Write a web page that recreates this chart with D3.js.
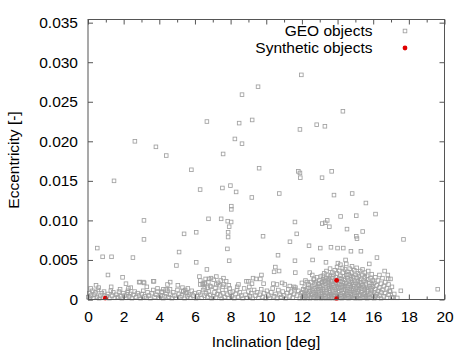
<!DOCTYPE html>
<html><head><meta charset="utf-8">
<script src="https://cdn.jsdelivr.net/npm/d3@7"></script>
<style>body{margin:0;background:#fff}svg{display:block}text{font-family:"Liberation Sans",Arial,Helvetica,sans-serif}</style>
</head><body><svg id="c" width="474" height="355"></svg>
<script>
// ---- data ----
const xTicks = [0,2,4,6,8,10,12,14,16,18,20];
const xMinorTicks = [1,3,5,7,9,11,13,15,17,19];
const yTicks = [0,0.005,0.010,0.015,0.020,0.025,0.030,0.035];
const yTickLabels = ["0","0.005","0.010","0.015","0.020","0.025","0.030","0.035"];
const legendLabels = ["GEO objects","Synthetic objects"];

// scattered GEO objects [inclination deg, eccentricity]
const geoSparse = [
[2.63,0.0200],[3.81,0.0193],[4.39,0.0182],[6.67,0.0225],[8.64,0.0259],[9.54,0.0269],[8.48,0.0223],[9.21,0.0227],
[8.24,0.0203],[8.64,0.0197],[7.58,0.0184],[11.97,0.0284],[14.30,0.0238],[12.83,0.0221],[13.29,0.0219],[11.89,0.0215],
[9.60,0.0166],[11.80,0.0162],[11.89,0.0160],[11.91,0.0154],[13.13,0.0154],[13.67,0.0162],[5.80,0.0164],[1.46,0.0150],
[6.29,0.0139],[7.54,0.0141],[7.99,0.0144],[8.31,0.0136],[9.19,0.0129],[8.04,0.0118],[8.04,0.0114],[3.14,0.0100],
[6.76,0.0102],[7.47,0.0102],[7.84,0.0099],[8.03,0.0098],[7.92,0.0092],[5.39,0.0083],[6.07,0.0085],[7.86,0.0085],
[7.86,0.0079],[9.82,0.0080],[3.14,0.0076],[10.73,0.0134],[13.80,0.0132],[14.82,0.0134],[15.59,0.0122],[16.13,0.0108],
[14.17,0.0105],[15.05,0.0106],[11.61,0.0098],[13.14,0.0096],[13.31,0.0097],[13.42,0.0100],[13.54,0.0092],[14.53,0.0089],
[15.41,0.0086],[11.71,0.0083],[15.05,0.0080],[15.09,0.0077],[17.70,0.0076],
[11.33,0.0073],[12.40,0.0068],[13.03,0.0065],[13.63,0.0066],[14.00,0.0065],[14.32,0.0065],[14.75,0.0061],[15.31,0.0061],
[16.21,0.0053],[10.66,0.0056],[11.61,0.0049],[12.60,0.0050],[13.35,0.0047],[14.02,0.0046],[14.45,0.0050],[15.78,0.0045],
[10.51,0.0041],[10.72,0.0036],[10.44,0.0035],[11.63,0.0034],[0.52,0.0065],[0.82,0.0054],[1.32,0.0054],[2.52,0.0053],
[1.12,0.0031],[1.94,0.0028],[0.45,0.0018],[2.13,0.0020],[2.27,0.0014],[2.24,0.0011],[2.87,0.0022],[3.11,0.0022],
[3.66,0.0023],[4.61,0.0022],[5.11,0.0060],[4.96,0.0043],[6.07,0.0047],[6.67,0.0038],[7.82,0.0064],[7.92,0.0049],
[19.62,0.0013],[8.89,0.0023],[9.26,0.0027],[9.43,0.0026],[9.73,0.0031],[9.67,0.0026],[9.05,0.0016],
[16.64,0.0036],[16.82,0.0031],[16.97,0.0026],[16.84,0.0026],[16.92,0.0011],[17.09,0.0002],
[12.44,0.0034],[12.58,0.0031],[12.68,0.0026],[13.18,0.0030],[6.25,0.0029],
[8.37,0.0016],[8.44,0.0019],[9.00,0.0023],[9.20,0.0020],[9.85,0.0020],[10.40,0.0020],[10.60,0.0019],[10.89,0.0021],
[11.04,0.0019],[11.32,0.0017],[11.56,0.0016],[11.58,0.0013],[12.00,0.0021],[12.20,0.0024],[12.28,0.0022],
[12.94,0.0020],[13.13,0.0022],[13.31,0.0024],[13.50,0.0026]
];

// low-eccentricity band, 0-12 deg
const geoBand = [
[0.02,0.0003],[0.08,0.0008],[0.12,0.0001],[0.18,0.0005],[0.25,0.0011],[0.30,0.0002],[0.36,0.0006],[0.42,0.0009],
[0.50,0.0003],[0.55,0.0012],[0.62,0.0001],[0.70,0.0005],[0.78,0.0008],[0.85,0.0002],[0.90,0.0010],[1.05,0.0004],
[1.12,0.0007],[1.20,0.0001],[1.28,0.0011],[1.35,0.0005],[1.42,0.0009],[1.50,0.0002],[1.58,0.0006],[1.66,0.0003],
[1.74,0.0010],[1.82,0.0004],[1.90,0.0001],[1.98,0.0008],[2.05,0.0005],[2.15,0.0002],[2.22,0.0009],[2.30,0.0004],
[2.38,0.0007],[2.46,0.0001],[2.55,0.0006],[2.62,0.0010],[2.70,0.0003],[2.78,0.0008],[2.86,0.0005],[2.95,0.0001],
[3.02,0.0007],[3.10,0.0011],[3.18,0.0004],[3.26,0.0002],[3.34,0.0009],[3.42,0.0005],[3.50,0.0001],[3.58,0.0008],
[3.66,0.0012],[3.74,0.0003],[3.82,0.0006],[3.90,0.0010],[3.98,0.0002],[4.06,0.0005],[4.14,0.0009],[4.22,0.0001],
[4.30,0.0004],[4.38,0.0007],[4.46,0.0011],[4.54,0.0003],[4.62,0.0006],[4.70,0.0001],[4.78,0.0009],[4.86,0.0005],
[4.94,0.0002],[5.02,0.0012],[5.10,0.0007],[5.18,0.0003],[5.26,0.0005],[5.34,0.0010],[5.42,0.0001],[5.50,0.0008],
[5.58,0.0004],[5.66,0.0006],[5.74,0.0002],[5.82,0.0011],[5.90,0.0005],[5.98,0.0008],[6.06,0.0001],[6.14,0.0004],
[6.22,0.0009],[6.30,0.0006],[6.38,0.0002],[6.46,0.0012],[6.54,0.0005],[6.62,0.0008],[6.70,0.0003],[6.78,0.0010],
[6.86,0.0006],[6.94,0.0001],[7.02,0.0004],[7.10,0.0009],[7.18,0.0002],[7.26,0.0007],[7.34,0.0011],[7.42,0.0005],
[7.50,0.0001],[7.58,0.0008],[7.66,0.0003],[7.74,0.0012],[7.82,0.0006],[7.90,0.0002],[7.98,0.0009],
[0.15,0.0014],[0.60,0.0015],[1.30,0.0016],[1.80,0.0013],[2.40,0.0015],[2.91,0.0022],[3.15,0.0021],[3.30,0.0016],
[3.70,0.0023],[3.90,0.0014],[4.23,0.0013],[4.14,0.0010],[4.37,0.0013],[4.46,0.0019],[4.60,0.0013],[5.04,0.0018],
[5.30,0.0015],[5.45,0.0012],[5.60,0.0014],[5.35,0.0011],[5.55,0.0009],[6.30,0.0019],[6.44,0.0019],[6.57,0.0020],
[6.55,0.0014],[6.70,0.0015],[6.30,0.0024],[6.45,0.0020],[6.60,0.0026],[6.75,0.0022],[6.90,0.0027],[7.05,0.0025],
[7.20,0.0029],[7.30,0.0021],[7.45,0.0024],[7.60,0.0027],[7.75,0.0023],[7.90,0.0018],[7.15,0.0015],[6.85,0.0017],
[7.55,0.0016],[7.95,0.0014],[6.54,0.0021],[6.78,0.0026],[6.90,0.0016],[7.20,0.0019],[7.39,0.0018],[7.62,0.0019],
[8.05,0.0004],[8.12,0.0010],[8.20,0.0001],[8.28,0.0007],[8.36,0.0012],[8.44,0.0003],[8.52,0.0009],[8.60,0.0005],
[8.68,0.0001],[8.76,0.0014],[8.84,0.0006],[8.92,0.0002],[9.00,0.0010],[9.08,0.0004],[9.16,0.0008],[9.24,0.0001],
[9.32,0.0012],[9.40,0.0005],[9.48,0.0009],[9.56,0.0002],[9.64,0.0006],[9.72,0.0013],[9.80,0.0003],[9.88,0.0008],
[9.96,0.0001],[10.04,0.0011],[10.12,0.0005],[10.20,0.0002],[10.28,0.0009],[10.36,0.0014],[10.44,0.0004],[10.52,0.0007],
[10.60,0.0001],[10.68,0.0012],[10.76,0.0006],[10.84,0.0003],[10.92,0.0010],[11.00,0.0005],[11.08,0.0001],[11.16,0.0008],
[11.24,0.0013],[11.32,0.0004],[11.40,0.0010],[11.48,0.0002],[11.56,0.0007],[11.64,0.0015],[11.72,0.0005],[11.80,0.0011],
[11.88,0.0001],[11.96,0.0008]
];

// dense cluster 12-17.5 deg: [inclination, [eccentricities]]
const geoCluster = [
[12.03,[0.0002,0.0009]],[12.08,[0.0005,0.0013]],[12.16,[0.0001,0.0007,0.0016]],[12.22,[0.0004,0.0011]],
[12.31,[0.0002,0.0008,0.0014]],[12.37,[0.0005,0.0019]],[12.45,[0.0001,0.0010,0.0015]],[12.52,[0.0003,0.0007,0.0022]],
[12.58,[0.0006,0.0012,0.0017]],[12.66,[0.0002,0.0009,0.0025]],[12.71,[0.0004,0.0014,0.0019]],[12.79,[0.0001,0.0007,0.0011,0.0022]],
[12.85,[0.0005,0.0016,0.0028]],[12.93,[0.0003,0.0009,0.0013,0.0020]],[12.98,[0.0006,0.0017,0.0024]],[13.06,[0.0001,0.0011,0.0015,0.0029]],
[13.12,[0.0004,0.0008,0.0021]],[13.19,[0.0002,0.0013,0.0018,0.0026]],[13.25,[0.0006,0.0010,0.0023,0.0033]],[13.33,[0.0001,0.0004,0.0015,0.0020]],
[13.38,[0.0008,0.0012,0.0027,0.0036]],[13.46,[0.0003,0.0017,0.0022,0.0031]],[13.52,[0.0005,0.0009,0.0014,0.0025]],[13.58,[0.0001,0.0011,0.0019,0.0029,0.0039]],
[13.64,[0.0004,0.0007,0.0016,0.0023]],[13.71,[0.0002,0.0013,0.0020,0.0027,0.0034]],[13.77,[0.0006,0.0010,0.0018,0.0031]],[13.84,[0.0001,0.0004,0.0015,0.0024,0.0037]],
[13.90,[0.0008,0.0012,0.0021,0.0028]],[13.97,[0.0003,0.0017,0.0025,0.0033,0.0041]],[14.03,[0.0005,0.0009,0.0014,0.0020]],[14.10,[0.0002,0.0011,0.0019,0.0027,0.0036]],
[14.16,[0.0006,0.0015,0.0023,0.0030,0.0044]],[14.23,[0.0001,0.0004,0.0012,0.0018,0.0026]],[14.29,[0.0008,0.0016,0.0022,0.0034,0.0040]],[14.36,[0.0003,0.0010,0.0020,0.0029]],
[14.42,[0.0005,0.0013,0.0017,0.0025,0.0038]],[14.49,[0.0002,0.0008,0.0021,0.0031,0.0045]],[14.55,[0.0006,0.0011,0.0015,0.0027,0.0035]],[14.62,[0.0001,0.0004,0.0018,0.0024,0.0032]],
[14.68,[0.0009,0.0013,0.0020,0.0039]],[14.75,[0.0003,0.0007,0.0016,0.0026,0.0030]],[14.81,[0.0005,0.0011,0.0022,0.0034,0.0042]],[14.88,[0.0002,0.0014,0.0019,0.0028]],
[14.94,[0.0006,0.0009,0.0017,0.0024,0.0037]],[15.01,[0.0001,0.0012,0.0021,0.0031]],[15.07,[0.0004,0.0008,0.0015,0.0027,0.0040]],[15.14,[0.0002,0.0010,0.0019,0.0023,0.0033]],
[15.20,[0.0006,0.0013,0.0017,0.0029]],[15.27,[0.0001,0.0005,0.0022,0.0036]],[15.33,[0.0009,0.0014,0.0020,0.0026]],[15.40,[0.0003,0.0011,0.0018,0.0031,0.0038]],
[15.46,[0.0006,0.0016,0.0024]],[15.53,[0.0002,0.0008,0.0013,0.0028,0.0034]],[15.59,[0.0004,0.0019,0.0022]],[15.66,[0.0001,0.0010,0.0015,0.0030]],
[15.72,[0.0006,0.0012,0.0025,0.0036]],[15.79,[0.0003,0.0017,0.0021]],[15.85,[0.0008,0.0014,0.0027]],[15.92,[0.0002,0.0011,0.0019,0.0032]],
[15.98,[0.0005,0.0016,0.0024]],[16.05,[0.0001,0.0009,0.0021]],[16.12,[0.0004,0.0013,0.0028]],[16.20,[0.0007,0.0018]],
[16.27,[0.0002,0.0011,0.0024]],[16.35,[0.0005,0.0015,0.0031]],[16.44,[0.0001,0.0009,0.0020]],[16.52,[0.0012,0.0027]],
[16.60,[0.0004,0.0017]],[16.68,[0.0008,0.0022]],[16.77,[0.0002,0.0014]],[16.86,[0.0006,0.0019]],
[16.95,[0.0010]],[17.05,[0.0003,0.0016]],[17.18,[0.0007]],[17.35,[0.0002]],[17.55,[0.0011]]
];

// synthetic objects
const synInc = [0.97, 13.95, 13.95];
const synEcc = [0.00016, 0.00243, 0.0001];

// ---- drawing ----
const svg = d3.select("#c");
const L = 88, R = 444.5, T = 19.5, B = 299.5;
const x = d3.scaleLinear().domain([0, 20]).range([L, R]);
const y = d3.scaleLinear().domain([0, 0.0354]).range([B, T]);
const fs = "15.5px";
const frameColor = "#555";
const geoColor = "#a0a0a0";

const geoAll = geoSparse.concat(geoBand);
geoCluster.forEach(c => c[1].forEach(e => geoAll.push([c[0], e])));

const sq = 3.6;
svg.append("clipPath").attr("id", "clip").append("rect")
  .attr("x", L - 3).attr("y", T).attr("width", R - L + 3).attr("height", B - T + 1);
const gPts = svg.append("g").attr("clip-path", "url(#clip)");
gPts.selectAll("rect.geo").data(geoAll).enter().append("rect").attr("class", "geo")
  .attr("x", d => x(d[0]) - sq / 2).attr("y", d => y(d[1]) - sq / 2)
  .attr("width", sq).attr("height", sq)
  .attr("fill", "none").attr("stroke", geoColor).attr("stroke-width", 0.85);
gPts.selectAll("circle.syn").data(synInc.map((v, i) => [v, synEcc[i]])).enter().append("circle")
  .attr("class", "syn").attr("cx", d => x(d[0])).attr("cy", d => y(d[1])).attr("r", 2.4)
  .attr("fill", "#e00000");

function styleAxis(g) {
  g.select(".domain").remove();
  g.selectAll("line").attr("stroke", frameColor);
  g.selectAll("text").attr("font-size", fs).attr("fill", "#000")
    .attr("font-family", "'Liberation Sans', Arial, sans-serif");
}
// bottom
svg.append("g").attr("transform", `translate(0,${B})`)
  .call(d3.axisBottom(x).tickValues(xTicks).tickFormat(d3.format("d")).tickSizeInner(-5).tickSizeOuter(0).tickPadding(11))
  .call(styleAxis);
svg.append("g").attr("transform", `translate(0,${B})`)
  .call(d3.axisBottom(x).tickValues(xMinorTicks).tickFormat("").tickSizeInner(-3).tickSizeOuter(0))
  .call(styleAxis);
// top
svg.append("g").attr("transform", `translate(0,${T})`)
  .call(d3.axisTop(x).tickValues(xTicks).tickFormat("").tickSizeInner(-5).tickSizeOuter(0))
  .call(styleAxis);
svg.append("g").attr("transform", `translate(0,${T})`)
  .call(d3.axisTop(x).tickValues(xMinorTicks).tickFormat("").tickSizeInner(-3).tickSizeOuter(0))
  .call(styleAxis);
// left
svg.append("g").attr("transform", `translate(${L},0)`)
  .call(d3.axisLeft(y).tickValues(yTicks).tickFormat((d, i) => yTickLabels[i]).tickSizeInner(-5).tickSizeOuter(0).tickPadding(10))
  .call(styleAxis);
// right
svg.append("g").attr("transform", `translate(${R},0)`)
  .call(d3.axisRight(y).tickValues(yTicks).tickFormat("").tickSizeInner(-5).tickSizeOuter(0))
  .call(styleAxis);

// frame
svg.append("rect").attr("x", L).attr("y", T).attr("width", R - L).attr("height", B - T)
  .attr("fill", "none").attr("stroke", frameColor).attr("stroke-width", 1);

// axis titles
svg.append("text").attr("x", 266).attr("y", 346.5).attr("text-anchor", "middle")
  .attr("font-size", fs).text("Inclination [deg]");
svg.append("text").attr("transform", "translate(18.5,160) rotate(-90)").attr("text-anchor", "middle")
  .attr("font-size", fs).text("Eccentricity [-]");

// legend
svg.append("text").attr("x", 372.5).attr("y", 35.5).attr("text-anchor", "end").attr("font-size", fs).text(legendLabels[0]);
svg.append("text").attr("x", 372.5).attr("y", 53).attr("text-anchor", "end").attr("font-size", fs).text(legendLabels[1]);
svg.append("rect").attr("x", 405 - sq / 2).attr("y", 31 - sq / 2).attr("width", sq).attr("height", sq)
  .attr("fill", "none").attr("stroke", geoColor).attr("stroke-width", 0.85);
svg.append("circle").attr("cx", 405).attr("cy", 48).attr("r", 2.4).attr("fill", "#e00000");
</script></body></html>
